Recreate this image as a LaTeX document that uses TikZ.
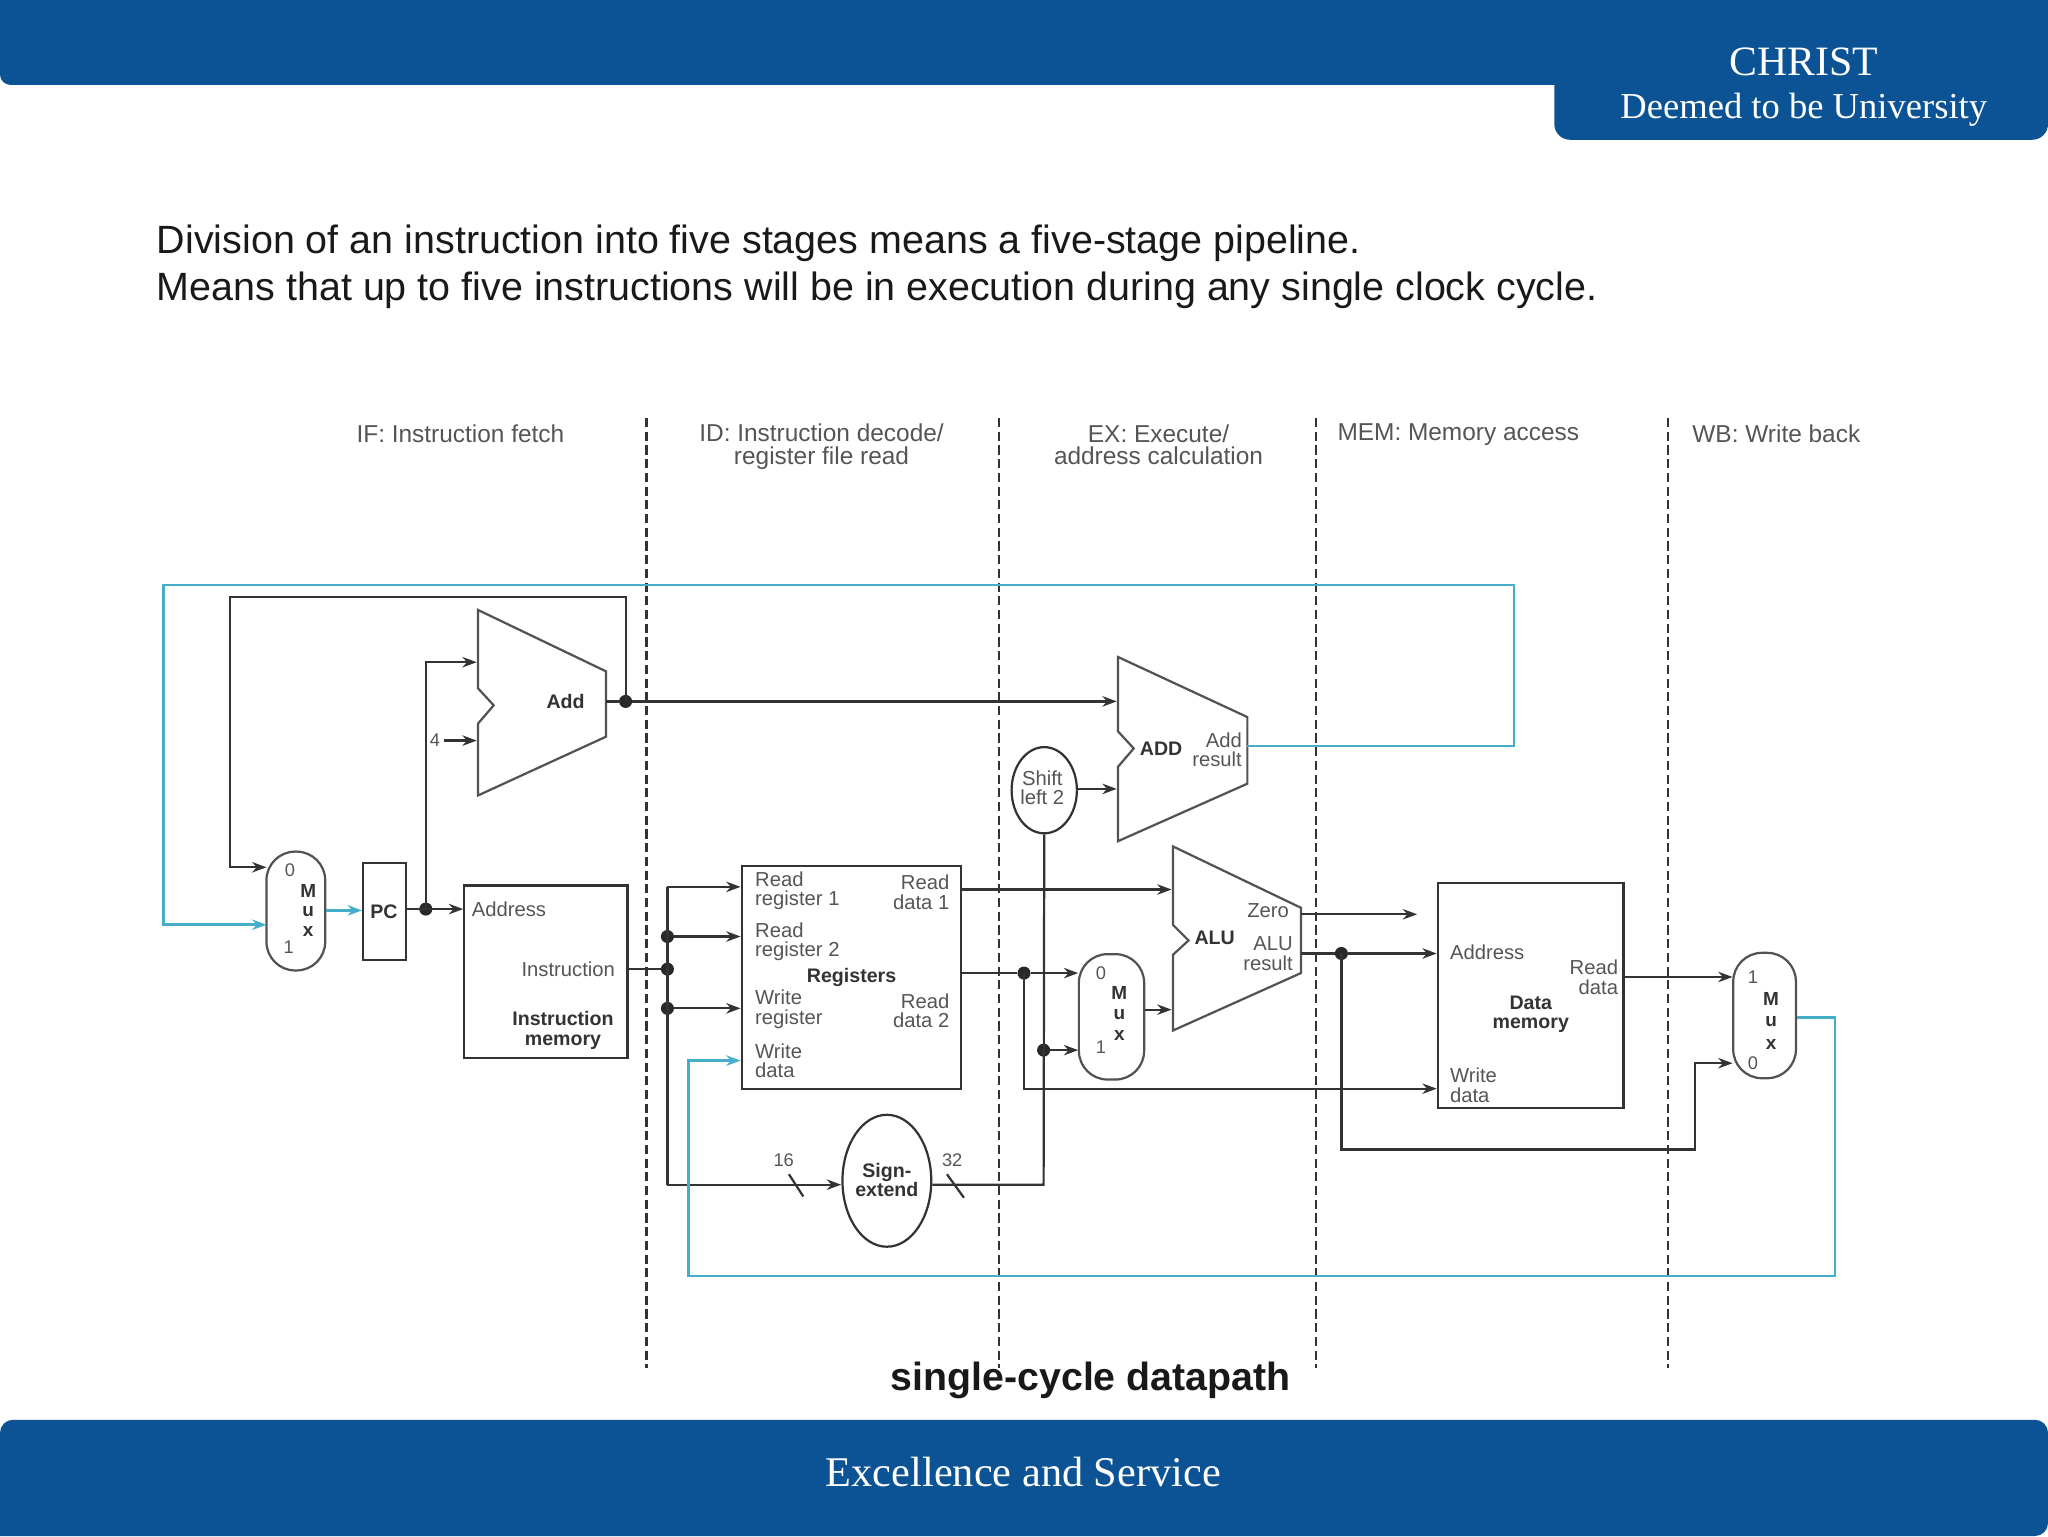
\documentclass[tikz,border=0pt]{standalone}
\usepackage{fontspec}
\setmainfont{Liberation Sans}
\newfontfamily\serifx{Liberation Serif}
\usetikzlibrary{arrows.meta,shapes.geometric}
\definecolor{band}{HTML}{0B5394}
\definecolor{ink}{HTML}{333333}
\definecolor{txt}{HTML}{555555}
\definecolor{cy}{HTML}{45AECB}
\tikzset{
  wire/.style={draw=ink,line width=1.7pt,line join=miter},
  arr/.style={wire,-{Stealth[length=11pt,width=8pt]}},
  bwire/.style={draw=cy,line width=2pt},
  barr/.style={bwire,-{Stealth[length=11pt,width=8pt]}},
  stage/.style={draw=ink,line width=1.7pt,dash pattern=on 7pt off 3.5pt},
  box/.style={draw=ink,line width=1.7pt,rectangle,inner sep=0pt},
  muxbox/.style={draw=ink!85,line width=1.7pt,rectangle,rounded corners=22pt,inner sep=0pt,minimum width=46pt,minimum height=96pt},
  oval/.style={draw=ink,line width=1.7pt,ellipse,inner sep=0pt},
  joint/.style={circle,fill=ink!80!black,inner sep=0pt,minimum size=10pt},
  lab/.style={text=txt,inner sep=0pt,font=\fontsize{15.5}{15}\selectfont},
  blab/.style={text=ink,inner sep=0pt,font=\fontsize{15}{15}\selectfont\bfseries,align=center},
  hdrlab/.style={text=txt,inner sep=0pt,font=\fontsize{18.7}{17.5}\selectfont,align=center},
  adder/.style={draw=ink!85,line width=1.7pt,line join=miter},
  mlet/.style={text=ink,inner sep=0pt,font=\fontsize{14.5}{14.5}\selectfont\bfseries},
  mnum/.style={text=txt,inner sep=0pt,font=\fontsize{14}{14}\selectfont},
}
\begin{document}
\begin{tikzpicture}[x=1pt,y=-1pt]
\path[use as bounding box] (0,0) rectangle (1568,1176);
% bands
\fill[band] (0,0) -- (1568,0) [rounded corners=12pt] -- (1568,107) -- (1190,107) [sharp corners] -- (1190,65) [rounded corners=8pt] -- (0,65) [sharp corners] -- cycle;
\fill[band] (0,1176) [rounded corners=10pt] -- (0,1087) -- (1568,1087) [sharp corners] [rounded corners=10pt] -- (1568,1176) [sharp corners] -- cycle;
\node (christ) at (1381,47) [text=white,inner sep=0pt,font=\serifx\fontsize{32}{32}\selectfont] {CHRIST};
\node (deemed) at (1381,84) [text=white,inner sep=0pt,font=\serifx\fontsize{28}{28}\selectfont] {Deemed to be University};
\node (motto) at (783.5,1127) [text=white,inner sep=0pt,font=\serifx\fontsize{32.4}{32}\selectfont] {Excellence and Service};
\node (line1) at (120,186) [anchor=west,text=black!90,inner sep=0pt,font=\fontsize{30.2}{30}\selectfont] {Division of an instruction into five stages means a five-stage pipeline.};
\node (line2) at (120,222) [anchor=west,text=black!90,inner sep=0pt,font=\fontsize{30.2}{30}\selectfont] {Means that up to five instructions will be in execution during any single clock cycle.};
\node (caption) at (835,1057) [text=black!90,inner sep=0pt,font=\fontsize{30.1}{30}\selectfont\bfseries] {single-cycle datapath};
% stage separators
\foreach \n/\x in {a/495,b/765,c/1007.5,d/1277}{
  \coordinate (s\n t) at (\x,320);
  \coordinate (s\n b) at (\x,1047);
  \draw[stage] (s\n t) -- (s\n b);
}
\node (hif) at (352.5,332) [hdrlab] {IF: Instruction fetch};
\node (hid) at (629,342) [hdrlab] {ID: Instruction decode/\\register file read};
\node (hex) at (887,340.5) [hdrlab] {EX: Execute/\\address calculation};
\node (hmem) at (1116.5,333) [hdrlab] {MEM: Memory access};
\node (hwb) at (1360,332) [hdrlab] {WB: Write back};
% adders
\draw[adder] (366,467) -- (464,514) -- (464,564) -- (366,609) -- (366,554) -- (378,540) -- (366,527) -- cycle;
\node (addl) at (433,537) [blab] {Add};
\coordinate (addA) at (365,507); \coordinate (addB) at (365,567); \coordinate (addO) at (464,537);
\draw[adder] (856,503) -- (955,549) -- (955,600) -- (856,644) -- (856,587) -- (868,573) -- (856,560) -- cycle;
\node (addbl) at (889,573) [blab] {ADD};
\node (addr) at (951,574) [lab,anchor=east,align=right] {Add\\result};
\coordinate (bA) at (855,537); \coordinate (bB) at (855,604); \coordinate (bO) at (955,571);
\draw[adder] (898,648) -- (996,695) -- (996,745) -- (898,789) -- (898,731) -- (910,720) -- (898,708) -- cycle;
\node (alul) at (930,718) [blab] {ALU};
\node (zero) at (987,697) [lab,anchor=east] {Zero};
\node (alur) at (990,730) [lab,anchor=east,align=right] {ALU\\result};
\coordinate (aluA) at (897,681); \coordinate (aluB) at (897,773); \coordinate (aluZ) at (996,700); \coordinate (aluR) at (996,730);
% boxes
\node (pc) at (294.5,698) [box,minimum width=33pt,minimum height=74pt] {};
\node (pcl) at (294,698) [blab] {PC};
\node (imem) at (418,744) [box,minimum width=125pt,minimum height=132pt] {};
\node (iaddr) at (361,696) [lab,anchor=west] {Address};
\node (iins) at (471,742) [lab,anchor=east] {Instruction};
\node (imeml) at (431,789) [blab] {Instruction\\memory};
\node (regs) at (652,748.5) [box,minimum width=168pt,minimum height=171pt] {};
\node (rr1) at (578,682) [lab,anchor=west,align=left] {Read\\register 1};
\node (rr2) at (578,721) [lab,anchor=west,align=left] {Read\\register 2};
\node (wr) at (578,772.5) [lab,anchor=west,align=left] {Write\\register};
\node (wd) at (578,812) [lab,anchor=west,align=left] {Write\\data};
\node (regl) at (652,748.5) [blab] {Registers};
\node (rd1) at (727,683) [lab,anchor=east,align=right] {Read\\data 1};
\node (rd2) at (727,774) [lab,anchor=east,align=right] {Read\\data 2};
\node (dmem) at (1172,762) [box,minimum width=142pt,minimum height=172pt] {};
\node (daddr) at (1110,729) [lab,anchor=west] {Address};
\node (drd) at (1239,748) [lab,anchor=east,align=right] {Read\\data};
\node (dmeml) at (1172,776.5) [blab] {Data\\memory};
\node (dwd) at (1110,831) [lab,anchor=west,align=left] {Write\\data};
% ovals
\node (shift) at (799.5,605) [oval,minimum width=50pt,minimum height=66pt] {};
\node (shiftl) at (798,603) [lab,align=center] {Shift\\left 2};
\node (sign) at (679,904) [oval,minimum width=68pt,minimum height=101pt] {};
\node (signl) at (679,903.5) [blab] {Sign-\\extend};
% muxes
\node (mux0) at (226.5,697.5) [muxbox,minimum width=45pt,minimum height=91pt] {};
\node (m0a) at (222,666) [mnum] {0};
\node (m0m) at (236,682) [mlet] {M};
\node (m0u) at (236,698) [mlet] {u};
\node (m0x) at (236,713) [mlet] {x};
\node (m0b) at (221,725) [mnum] {1};
\node (mux1) at (851,778.5) [muxbox,minimum width=50pt] {};
\node (m1a) at (843,745) [mnum] {0};
\node (m1m) at (857,760) [mlet] {M};
\node (m1u) at (857,777) [mlet] {u};
\node (m1x) at (857,793) [mlet] {x};
\node (m1b) at (843,802) [mnum] {1};
\node (mux2) at (1351,777.5) [muxbox,minimum width=48pt] {};
\node (m2a) at (1342,748) [mnum] {1};
\node (m2m) at (1356,765) [mlet] {M};
\node (m2u) at (1356,782) [mlet] {u};
\node (m2x) at (1356,800) [mlet] {x};
\node (m2b) at (1342,814) [mnum] {0};
% joints
\node (jadd) at (479,537) [joint] {};
\node (jpc) at (326,696) [joint] {};
\node (jins) at (511,742) [joint] {};
\node (jr2) at (511,717) [joint] {};
\node (jwr) at (511,772) [joint] {};
\node (jrd2) at (784,745) [joint] {};
\node (jimm) at (799,804) [joint] {};
\node (jalu) at (1027,730) [joint] {};
% pins
\coordinate (m0in0) at (204,664); \coordinate (m0in1) at (204,708);
\coordinate (r1in) at (567,679); \coordinate (r2in) at (567,717); \coordinate (wrin) at (567,772); \coordinate (wdin) at (567,812);
\coordinate (m1in0) at (825.5,745); \coordinate (m1in1) at (825.5,804);
\coordinate (m2in1) at (1326.5,748); \coordinate (m2in0) at (1326.5,814);
\coordinate (d1) at (1100,730); \coordinate (d2) at (1100,833.5);
\coordinate (zeroend) at (1085,700);
\coordinate (four) at (340,567);
\coordinate (signin) at (644,907);
\node (fourl) at (333,567) [lab,font=\fontsize{14}{14}\selectfont] {4};
\node (w16) at (600,888) [lab,font=\fontsize{14}{14}\selectfont] {16};
\node (w32) at (729,888) [lab,font=\fontsize{14}{14}\selectfont] {32};
% black connectors
\draw[wire] (addO) -- (jadd);
\draw[arr] (jadd) -- (bA);
\draw[arr] (jadd.center) -- (479,457) -- (176,457) -- (176,664) -- (m0in0);
\draw[arr] (pc.east |- jpc) -- (iaddr.west -| imem.west);
\draw[arr] (jpc.center) -- (326,507) -- (addA);
\draw[arr] (four) -- (addB);
\draw[wire] (iins.east -| imem.east) -- (jins);
\draw[arr] (r1in -| jins) -- (r1in);
\draw[wire] (r1in -| jins) -- (511,907);
\draw[arr] (jr2) -- (r2in);
\draw[arr] (jwr) -- (wrin);
\draw[arr] (511,907) -- (signin);
\draw[wire] (604,899) -- (615,916);
\draw[wire] (sign.east |- signin) -- (799,907) -- (shift.south);
\draw[wire] (725,899) -- (738,917);
\draw[arr] (jimm) -- (m1in1);
\draw[arr] (shift.east |- bB) -- (bB);
\draw[arr] (regs.east |- aluA) -- (aluA);
\draw[wire] (regs.east |- jrd2) -- (jrd2);
\draw[arr] (jrd2) -- (m1in0);
\draw[arr] (jrd2.center) -- (784,833.5) -- (d2);
\draw[arr] (mux1.east |- aluB) -- (aluB);
\draw[arr] (aluZ) -- (zeroend);
\draw[wire] (aluR) -- (jalu);
\draw[arr] (jalu) -- (d1);
\draw[arr] (jalu.center) -- (1027,880) -- (1298,880) -- (1298,814) -- (m2in0);
\draw[arr] (dmem.east |- m2in1) -- (m2in1);
% blue connectors
\draw[barr] (bO) -- (1159,571) -- (1159,448) -- (125,448) -- (125,708) -- (m0in1);
\draw[barr] (mux0.east |- 0,697) -- (pc.west |- 0,697);
\draw[barr] (mux2.east |- 0,779) -- (1405,779) -- (1405,977) -- (527,977) -- (527,812) -- (wdin);
\end{tikzpicture}
\end{document}
